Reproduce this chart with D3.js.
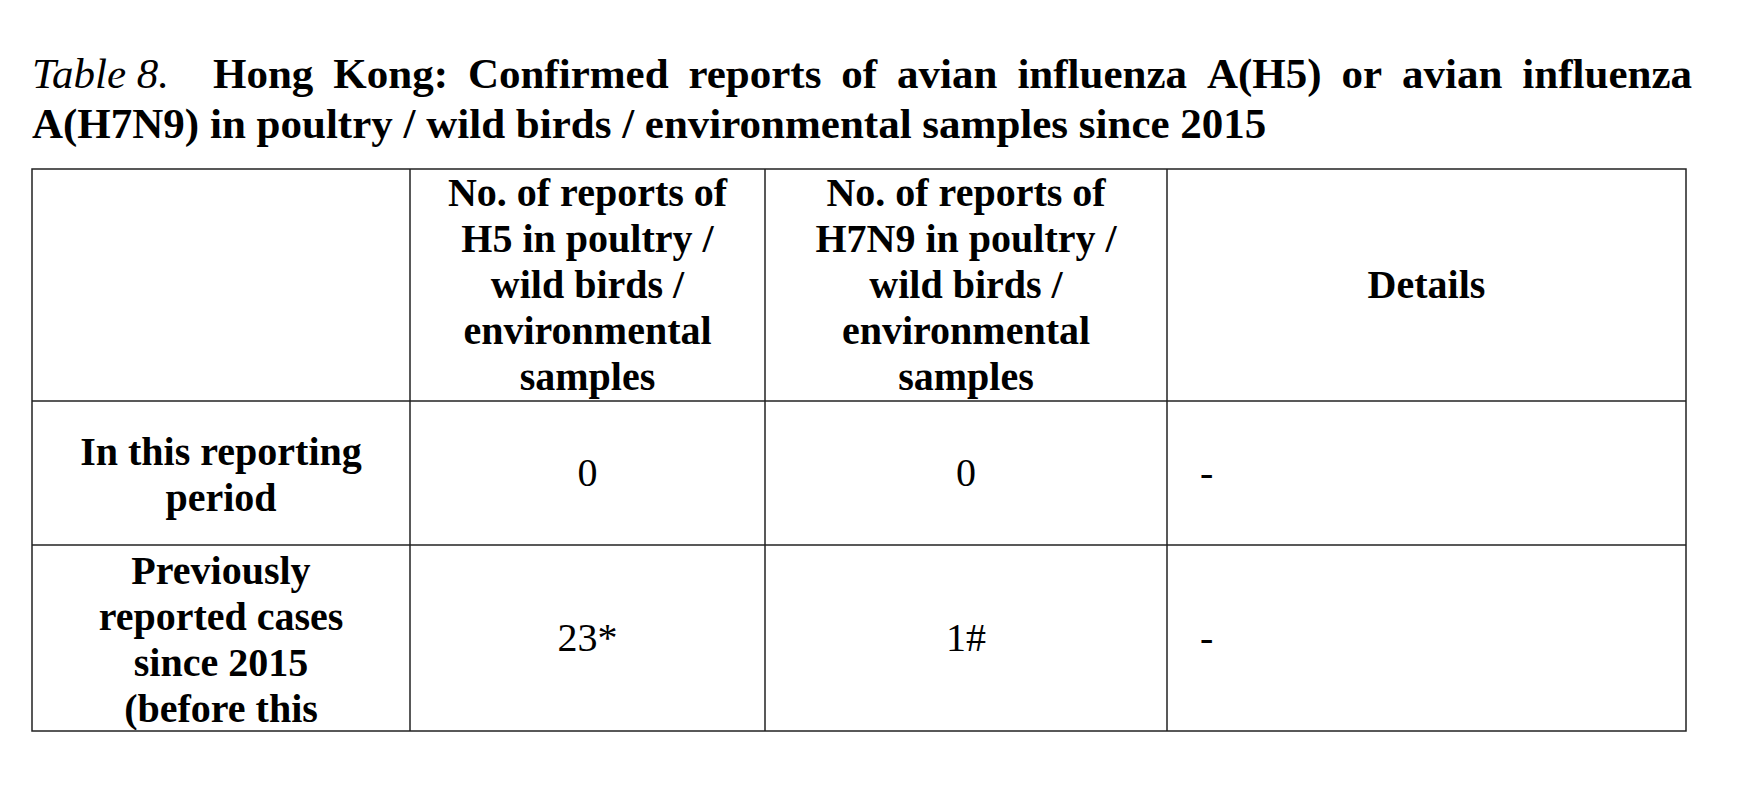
<!DOCTYPE html><html><head><meta charset="utf-8"><script src="https://cdn.jsdelivr.net/npm/d3@7"></script>
<style>body{margin:0;background:#fff}</style></head><body><svg id="c" width="1754" height="790"></svg>
<script>
const titleLabel = "Table 8.";
const titleLine1 = "Hong Kong: Confirmed reports of avian influenza A(H5) or avian influenza";
const titleLine2 = "A(H7N9) in poultry / wild birds / environmental samples since 2015";
const headers = ["", "No. of reports of\nH5 in poultry /\nwild birds /\nenvironmental\nsamples", "No. of reports of\nH7N9 in poultry /\nwild birds /\nenvironmental\nsamples", "Details"];
const rowLabels = ["In this reporting\nperiod", "Previously\nreported cases\nsince 2015\n(before this\nreporting period)"];
const h5Values = ["0", "23*"];
const h7n9Values = ["0", "1#"];
const details = ["-", "-"];

const svg = d3.select("#c");
const font = "'Liberation Serif','Times New Roman',serif";
const fs = 40, lh = 46, tfs = 43;
const colEdges = [32, 410, 765, 1167, 1686];
const rowEdges = [169, 401, 545, 731];

// title
const t1 = svg.append("g").attr("font-family", font).attr("font-size", tfs);
const lab = t1.append("text").attr("x", 32).attr("y", 88).attr("font-style","italic").text(titleLabel);
const words = titleLine1.split(" ");
const ws = words.map(w => { const n = t1.append("text").attr("font-weight","bold").attr("y",88).text(w); return {n, w: n.node().getComputedTextLength()}; });
const start = 32 + lab.node().getComputedTextLength() + 44, end = 1692;
const total = d3.sum(ws, d => d.w);
const gap = (end - start - total) / (ws.length - 1);
let cx = start; ws.forEach(d => { d.n.attr("x", cx); cx += d.w + gap; });
t1.append("text").attr("x",32).attr("y",138).attr("font-weight","bold").text(titleLine2);

// grid
const g = svg.append("g").attr("stroke","#222").attr("stroke-width",1.5).attr("fill","none");
g.append("rect").attr("x",colEdges[0]).attr("y",rowEdges[0]).attr("width",colEdges[4]-colEdges[0]).attr("height",rowEdges[3]-rowEdges[0]);
colEdges.slice(1,4).forEach(c => g.append("line").attr("x1",c).attr("x2",c).attr("y1",rowEdges[0]).attr("y2",rowEdges[3]));
rowEdges.slice(1,3).forEach(r => g.append("line").attr("x1",colEdges[0]).attr("x2",colEdges[4]).attr("y1",r).attr("y2",r));

svg.append("clipPath").attr("id","clip").append("rect").attr("x",0).attr("y",0).attr("width",1754).attr("height",rowEdges[3]-1);
const tg = svg.append("g").attr("font-family",font).attr("font-size",fs).attr("clip-path","url(#clip)");
function cell(text, col, row, opts={}) {
  const lines = text.split("\n");
  const x0 = colEdges[col], x1 = colEdges[col+1];
  const y0 = rowEdges[row], y1 = rowEdges[row+1];
  let top;
  if (opts.topFirst) top = y0 + opts.topFirst;
  else top = (y0 + y1)/2 - (lines.length-1)*lh/2 + 13;
  lines.forEach((l,i) => tg.append("text").attr("x", opts.left ? x0 + 33 : (x0+x1)/2)
    .attr("y", top + i*lh).attr("text-anchor", opts.left ? "start" : "middle")
    .attr("font-weight", opts.bold ? "bold" : "normal").text(l));
}
headers.forEach((h,i) => { if (h) cell(h, i, 0, {bold:true}); });
rowLabels.forEach((r,i) => cell(r, 0, i+1, {bold:true, topFirst: i===0 ? 64 : 39}));
h5Values.forEach((v,i) => cell(v, 1, i+1));
h7n9Values.forEach((v,i) => cell(v, 2, i+1));
details.forEach((v,i) => cell(v, 3, i+1, {left:true}));
</script></body></html>
